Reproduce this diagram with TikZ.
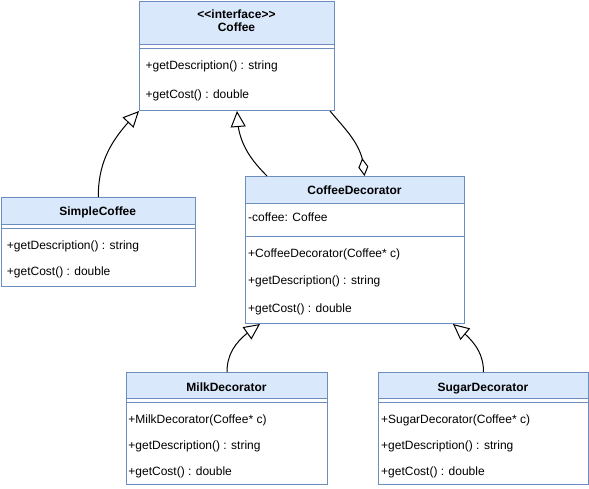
\documentclass[tikz,border=0pt]{standalone}
\usepackage{fontspec}
\setmainfont{Liberation Sans}
\usetikzlibrary{arrows.meta,bending}
\definecolor{umlfill}{HTML}{DAE8FC}
\definecolor{umlline}{HTML}{6C8EBF}
\tikzset{
  hdr/.style={draw=umlline, fill=umlfill, line width=1pt, anchor=north west, inner sep=0pt},
  bdy/.style={draw=umlline, fill=white, line width=1pt, anchor=north west, inner sep=0pt},
  sepline/.style={draw=umlline, line width=1pt},
  ttl/.style={font=\fontsize{12}{14}\selectfont\bfseries, anchor=base, inner sep=0pt},
  mem/.style={anchor=base west, inner sep=0pt},
  gen/.style={line width=1pt, black, -{Triangle[open, length=16pt, width=15pt, fill=white]}},
  agg/.style={line width=1pt, black, -{Diamond[open, length=18pt, width=10pt, fill=white]}},
}
\begin{document}
\begin{tikzpicture}[x=1pt, y=1pt, font=\fontsize{12}{14}\selectfont]
\useasboundingbox (0,0) rectangle (589,-488);

% Coffee
\node[hdr, minimum width=195pt, minimum height=43.5pt] (coffeeH) at (139,-0.5) {};
\node[bdy, minimum width=195pt, minimum height=66pt] (coffeeB) at (139,-44) {};
\draw[sepline] ([yshift=-4pt]coffeeB.north west) -- ([yshift=-4pt]coffeeB.north east);
\node[ttl] (coffeeT1) at (236.5,-18.3) {<{}<interface>{}>};
\node[ttl] (coffeeT2) at (236.5,-31.5) {Coffee};
\node[mem] (coffeeM1) at (145.4,-69.3) {+getDescription() : string};
\node[mem] (coffeeM2) at (145.4,-98.3) {+getCost() : double};

% SimpleCoffee
\node[hdr, minimum width=194.5pt, minimum height=27pt] (simpleH) at (0.5,-197) {};
\node[bdy, minimum width=194.5pt, minimum height=62pt] (simpleB) at (0.5,-224) {};
\draw[sepline] ([yshift=-4pt]simpleB.north west) -- ([yshift=-4pt]simpleB.north east);
\node[ttl] (simpleT) at (97.75,-215.5) {SimpleCoffee};
\node[mem] (simpleM1) at (6.7,-249) {+getDescription() : string};
\node[mem] (simpleM2) at (6.7,-275.5) {+getCost() : double};

% CoffeeDecorator
\node[hdr, minimum width=219pt, minimum height=27pt] (decH) at (245,-176) {};
\node[bdy, minimum width=219pt, minimum height=33pt] (decA) at (245,-203) {};
\node[bdy, minimum width=219pt, minimum height=87pt] (decM) at (245,-236) {};
\node[ttl] (decT) at (354.5,-194) {CoffeeDecorator};
\node[mem] (decA1) at (248,-221.7) {-coffee: Coffee};
\node[mem] (decM1) at (248,-257) {+CoffeeDecorator(Coffee* c)};
\node[mem] (decM2) at (248,-284.2) {+getDescription() : string};
\node[mem] (decM3) at (248,-312.5) {+getCost() : double};

% MilkDecorator
\node[hdr, minimum width=201pt, minimum height=26pt] (milkH) at (126,-372) {};
\node[bdy, minimum width=201pt, minimum height=86pt] (milkB) at (126,-398) {};
\draw[sepline] ([yshift=-4pt]milkB.north west) -- ([yshift=-4pt]milkB.north east);
\node[ttl] (milkT) at (226.5,-391) {MilkDecorator};
\node[mem] (milkM1) at (128.2,-423.5) {+MilkDecorator(Coffee* c)};
\node[mem] (milkM2) at (128.2,-449.2) {+getDescription() : string};
\node[mem] (milkM3) at (128.2,-475) {+getCost() : double};

% SugarDecorator
\node[hdr, minimum width=210pt, minimum height=26pt] (sugarH) at (378,-372) {};
\node[bdy, minimum width=210pt, minimum height=86pt] (sugarB) at (378,-398) {};
\draw[sepline] ([yshift=-4pt]sugarB.north west) -- ([yshift=-4pt]sugarB.north east);
\node[ttl] (sugarT) at (483,-391) {SugarDecorator};
\node[mem] (sugarM1) at (381,-423.5) {+SugarDecorator(Coffee* c)};
\node[mem] (sugarM2) at (381,-449.2) {+getDescription() : string};
\node[mem] (sugarM3) at (381,-475) {+getCost() : double};

% connectors
\draw[gen] (simpleH.north) to[out=90,in=225] (coffeeB.south west);
\draw[gen] ([xshift=22pt]decH.north west) to[out=135,in=-90] (coffeeB.south);
\draw[agg] ([xshift=-5pt]coffeeB.south east) to[out=-50,in=90] ([xshift=9.5pt]decH.north);
\draw[gen] (milkH.north) to[out=90,in=213] ([xshift=15pt]decM.south west);
\draw[gen] (sugarH.north) to[out=90,in=-38] ([xshift=-12pt]decM.south east);
\end{tikzpicture}
\end{document}
